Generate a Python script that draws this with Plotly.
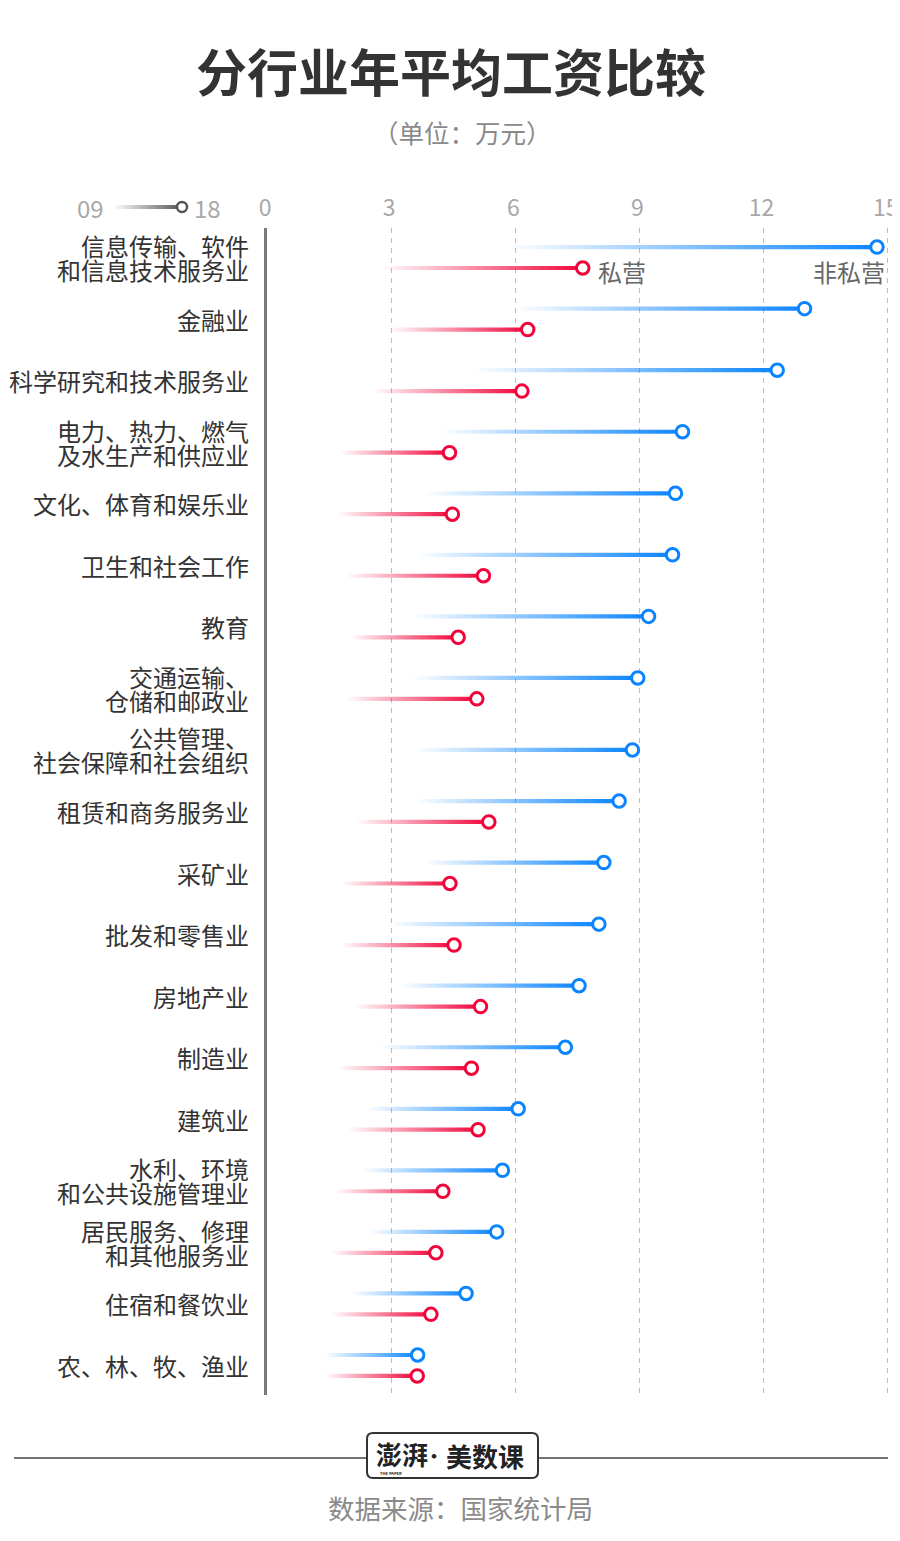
import plotly.graph_objects as go

# ---------------- data (万元) ----------------
categories = [
    "信息传输、软件\n和信息技术服务业",
    "金融业",
    "科学研究和技术服务业",
    "电力、热力、燃气\n及水生产和供应业",
    "文化、体育和娱乐业",
    "卫生和社会工作",
    "教育",
    "交通运输、\n仓储和邮政业",
    "公共管理、\n社会保障和社会组织",
    "租赁和商务服务业",
    "采矿业",
    "批发和零售业",
    "房地产业",
    "制造业",
    "建筑业",
    "水利、环境\n和公共设施管理业",
    "居民服务、修理\n和其他服务业",
    "住宿和餐饮业",
    "农、林、牧、渔业",
]
# 非私营 (non-private): 2009 start, 2018 end
nonprivate_2009 = [5.8, 6.0, 5.0, 4.2, 3.8, 3.6, 3.5, 3.5, 3.6, 3.6, 3.8, 2.95, 3.2, 2.7, 2.4, 2.3, 2.5, 2.05, 1.4]
nonprivate_2018 = [14.74, 12.99, 12.33, 10.04, 9.87, 9.80, 9.22, 8.96, 8.83, 8.51, 8.14, 8.02, 7.54, 7.21, 6.07, 5.69, 5.55, 4.81, 3.64]
# 私营 (private): 2009 start, 2018 end (no data for 公共管理)
private_2009 = [2.75, 2.95, 2.55, 1.75, 1.7, 1.9, 2.0, 1.9, None, 2.15, 1.8, 1.8, 2.1, 1.7, 1.95, 1.65, 1.55, 1.55, 1.4]
private_2018 = [7.63, 6.30, 6.16, 4.41, 4.48, 5.23, 4.62, 5.07, None, 5.36, 4.42, 4.52, 5.16, 4.94, 5.10, 4.25, 4.08, 3.96, 3.63]
x_ticks = [0, 3, 6, 9, 12, 15]

title = "分行业年平均工资比较"
subtitle = "（单位：万元）"
source = "数据来源：国家统计局"
label_private = "私营"
label_nonprivate = "非私营"

# ---------------- style ----------------
PAGE_W, PAGE_H = 900, 1541
BODY = 8                       # default page margin around the figure
W, H = PAGE_W - BODY, 1518
FONT = "Noto Sans CJK SC"
BLUE = (10, 132, 255)
RED = (240, 5, 58)
GREY = (85, 85, 85)
OFF = 0.17      # vertical offset of the two series inside a row
HALF = 0.034    # half thickness of a line, in row units


def rgba(c, a):
    return f"rgba({c[0]},{c[1]},{c[2]},{a})"


def grad_line(x0, x1, y, c, xa="x", ya="y", half=HALF):
    return go.Scatter(
        x=[x0, x1, x1, x0, x0],
        y=[y - half, y - half, y + half, y + half, y - half],
        xaxis=xa, yaxis=ya,
        mode="lines", line=dict(width=0, color="rgba(0,0,0,0)"),
        fill="toself",
        fillgradient=dict(type="horizontal",
                          colorscale=[[0, rgba(c, 0)], [1, rgba(c, 1)]]),
        hoverinfo="skip", showlegend=False,
    )


fig = go.Figure()

blue_y, red_y, red_x = [], [], []
for i in range(len(categories)):
    has_red = private_2018[i] is not None
    yb = i - OFF if has_red else i
    blue_y.append(yb)
    fig.add_trace(grad_line(nonprivate_2009[i], nonprivate_2018[i], yb, BLUE))
    if has_red:
        yr = i + OFF
        red_y.append(yr)
        red_x.append(private_2018[i])
        fig.add_trace(grad_line(private_2009[i], private_2018[i], yr, RED))

fig.add_trace(go.Scatter(
    x=nonprivate_2018, y=blue_y, mode="markers",
    marker=dict(symbol="circle", size=12.5, color="white",
                line=dict(color=rgba(BLUE, 1), width=3)),
    hoverinfo="skip", showlegend=False, cliponaxis=False))
fig.add_trace(go.Scatter(
    x=red_x, y=red_y, mode="markers",
    marker=dict(symbol="circle", size=12.5, color="white",
                line=dict(color=rgba(RED, 1), width=3)),
    hoverinfo="skip", showlegend=False, cliponaxis=False))

# ---------------- decorations in a page-pixel overlay ----------------
LX0, LX1, LY = 113, 182, 207
fig.add_trace(grad_line(LX0, LX1, LY, GREY, xa="x2", ya="y2", half=2))
fig.add_trace(go.Scatter(
    x=[LX1], y=[LY], xaxis="x2", yaxis="y2", mode="markers",
    marker=dict(symbol="circle", size=10, color="white",
                line=dict(color=rgba(GREY, 1), width=2.5)),
    hoverinfo="skip", showlegend=False, cliponaxis=False))

annotations = []


def pix_text(x, y, text, size, color, xanchor="center", bold=False):
    annotations.append(dict(
        x=x, y=y, xref="x2", yref="y2", text=text, showarrow=False,
        xanchor=xanchor, yanchor="middle", borderpad=0,
        font=dict(family=FONT, size=size, color=color,
                  weight="bold" if bold else "normal")))


pix_text(451, 70, title, 51, "#333333", bold=True)
pix_text(462, 131, subtitle, 25.5, "#8a8a8a")
pix_text(90, 207, "09", 24, "#a8a8a8")
pix_text(207, 207, "18", 24, "#a8a8a8")
pix_text(402, 1453, "澎湃", 26, "#222222", bold=True)
pix_text(434, 1455, "·", 18, "#222222", bold=True)
pix_text(485, 1455, "美数课", 26, "#222222", bold=True)
pix_text(391, 1473, "THE PAPER", 4, "#222222", bold=True)
pix_text(460, 1507, source, 26.5, "#8a8a8a")

# category labels
for i, cat in enumerate(categories):
    lines = cat.split("\n")
    n = len(lines)
    for k, line in enumerate(lines):
        annotations.append(dict(
            x=0, y=i, xref="x", yref="y", text=line, showarrow=False,
            xanchor="right", yanchor="middle", xshift=-17, borderpad=0,
            yshift=(n - 1) * 12 - k * 24,
            font=dict(family=FONT, size=24, color="#333333")))

# series labels next to first row
annotations.append(dict(
    x=private_2018[0], y=red_y[0], xref="x", yref="y", text=label_private,
    showarrow=False, xanchor="left", yanchor="middle", xshift=13, yshift=-3,
    font=dict(family=FONT, size=24, color="#666666")))
annotations.append(dict(
    x=nonprivate_2018[0], y=red_y[0], xref="x", yref="y", text=label_nonprivate,
    showarrow=False, xanchor="right", yanchor="middle", xshift=10, yshift=-3,
    font=dict(family=FONT, size=24, color="#666666")))

shapes = [
    dict(type="line", xref="x2", yref="y2", x0=14, x1=366, y0=1458, y1=1458,
         line=dict(color="#444444", width=1.5)),
    dict(type="line", xref="x2", yref="y2", x0=539, x1=888, y0=1458, y1=1458,
         line=dict(color="#444444", width=1.5)),
    dict(type="path", xref="x2", yref="y2",
         path="M 373 1433 L 532 1433 Q 538 1433 538 1439 L 538 1472 Q 538 1478 532 1478 "
              "L 373 1478 Q 367 1478 367 1472 L 367 1439 Q 367 1433 373 1433 Z",
         line=dict(color="#333333", width=2), fillcolor="rgba(0,0,0,0)"),
]


def px_x(p):   # page pixel -> paper fraction (x)
    return (p - BODY) / W


def px_y(p):   # page pixel -> paper fraction (y)
    return (BODY + H - p) / H


n = len(categories)
fig.update_layout(
    width=W, height=H,
    margin=dict(l=0, r=0, t=0, b=0, autoexpand=False),
    paper_bgcolor="white", plot_bgcolor="rgba(0,0,0,0)",
    showlegend=False,
    xaxis=dict(domain=[px_x(267), px_x(896)], range=[0, 15.2], side="top",
               tickvals=x_ticks, ticktext=[str(v) for v in x_ticks],
               tickfont=dict(family=FONT, size=23, color="#a8a8a8"),
               ticks="", ticklabelstandoff=6, ticklabelshift=-2,
               ticklabeloverflow="allow",
               showgrid=True, gridcolor="#bdbdbd", gridwidth=1, griddash="5px,5px",
               zeroline=False, showline=False, anchor="y", fixedrange=True),
    yaxis=dict(domain=[px_y(1395), px_y(228)], range=[n - 0.52, -0.48],
               showticklabels=False, ticks="", showgrid=False, zeroline=False,
               showline=True, linecolor="#7a7a7a", linewidth=3,
               anchor="x", fixedrange=True),
    xaxis2=dict(domain=[0, 1], range=[BODY, BODY + W], visible=False, anchor="y2",
                fixedrange=True),
    yaxis2=dict(domain=[0, 1], range=[BODY + H, BODY], visible=False, anchor="x2",
                fixedrange=True),
    annotations=annotations,
    shapes=shapes,
)

fig.write_html("out.html")
